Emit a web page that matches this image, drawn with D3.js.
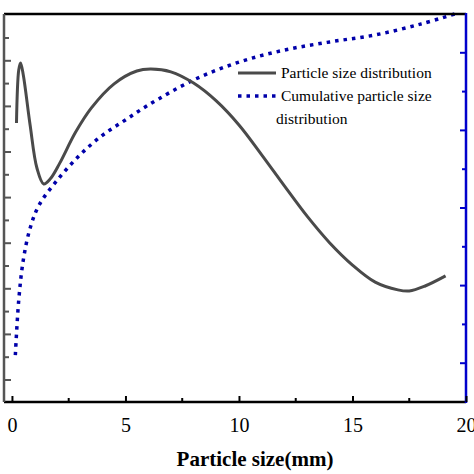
<!DOCTYPE html><html><head><script src="https://cdn.jsdelivr.net/npm/d3@7"></script>
<style>body{margin:0;background:#fff}svg text{font-family:"Liberation Serif","Times New Roman",serif}</style></head><body><script>
const xTicks=[0,5,10,15,20];
const psdX=[0.2,0.3,0.38,0.5,0.8,1.1,1.4,1.7,2.1,2.8,3.5,4.5,5.5,6.1,7,8,9,10,11,12,13,14,15,16,17,17.5,18.2,19.1];
const psdY=[71.9,85.6,87.4,84.3,71.4,60.3,56.2,57.6,61.5,69.5,75.8,82.0,85.3,85.8,85.1,82.2,77.6,71.4,63.7,55.7,47.9,41.0,35.3,30.9,28.9,28.6,29.9,32.5];
const cumX=[0.15,0.3,0.5,0.8,1.2,2,3,4,5,6,8,10,12,14,16,18,19.5];
const cumY=[12.1,26.3,36.6,44.8,50.8,57.2,63.7,68.8,72.7,76.5,83.0,87.6,90.7,92.8,94.6,97.4,100];
const W=474,H=474,L=4,R=466,T=14,B=402;
const svg=d3.select("body").append("svg").attr("width",W).attr("height",H);
const x=d3.scaleLinear().domain([-0.35,20]).range([L,R]);
const y=d3.scaleLinear().domain([0,100]).range([B,T]);
const yr=d3.scaleLinear().domain([0,10]).range([B,T]);
const line=d3.line().x(d=>x(d[0])).y(d=>y(d[1])).curve(d3.curveCatmullRom.alpha(0.5));
svg.append("path").attr("d",line(d3.zip(cumX,cumY))).attr("fill","none").attr("stroke","#0000aa").attr("stroke-width",3.5).attr("stroke-dasharray","3.5,5");
svg.append("path").attr("d",line(d3.zip(psdX,psdY))).attr("fill","none").attr("stroke","#4a4a4a").attr("stroke-width",3);
svg.append("line").attr("x1",L).attr("x2",R).attr("y1",T).attr("y2",T).attr("stroke","#000").attr("stroke-width",2.5);
svg.append("line").attr("x1",L).attr("x2",R).attr("y1",B).attr("y2",B).attr("stroke","#000").attr("stroke-width",2.5);
svg.append("line").attr("x1",L).attr("x2",L).attr("y1",T).attr("y2",B).attr("stroke","#555").attr("stroke-width",2.5);
svg.append("line").attr("x1",R).attr("x2",R).attr("y1",T-1).attr("y2",B+1).attr("stroke","#0000cc").attr("stroke-width",2.5);
const lt=d3.range(16).map(i=>380-i*22.8);
lt.forEach((p,i)=>svg.append("line").attr("x1",L).attr("x2",L+(i%2?5:7)).attr("y1",p).attr("y2",p).attr("stroke","#555").attr("stroke-width",2));
d3.range(1,10).forEach(i=>svg.append("line").attr("x1",R).attr("x2",R-(i%2?6:4)).attr("y1",yr(i)).attr("y2",yr(i)).attr("stroke","#0000cc").attr("stroke-width",2));
const xa=svg.append("g").attr("transform",`translate(0,${B})`).call(d3.axisBottom(x).tickValues(xTicks).tickSize(-6).tickPadding(16).tickFormat(d3.format("d")));
xa.attr("font-family",null);
xa.select(".domain").remove();
xa.selectAll("line").attr("stroke-width",2);
xa.selectAll("text").attr("font-size",20);
[2.5,7.5,12.5,17.5].forEach(v=>svg.append("line").attr("x1",x(v)).attr("x2",x(v)).attr("y1",B).attr("y2",B-4).attr("stroke","#000").attr("stroke-width",2));
svg.append("text").attr("x",255).attr("y",466).attr("text-anchor","middle").attr("font-size",21).attr("font-weight","bold").text("Particle size(mm)");
const lg=svg.append("g").attr("font-size",15.5);
lg.append("line").attr("x1",238).attr("x2",276).attr("y1",73).attr("y2",73).attr("stroke","#4a4a4a").attr("stroke-width",3);
lg.append("line").attr("x1",238).attr("x2",276).attr("y1",96).attr("y2",96).attr("stroke","#0000aa").attr("stroke-width",3.5).attr("stroke-dasharray","3.5,5");
lg.append("text").attr("x",281).attr("y",78).text("Particle size distribution");
lg.append("text").attr("x",281).attr("y",101).text("Cumulative particle size");
lg.append("text").attr("x",276).attr("y",124).text("distribution");
</script></body></html>
